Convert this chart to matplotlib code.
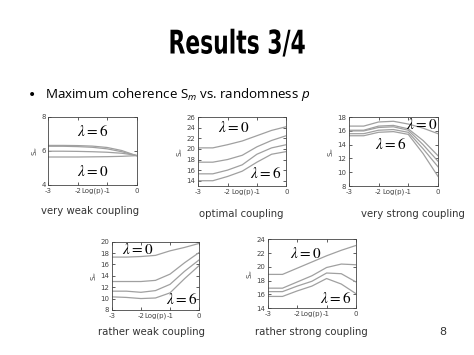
import matplotlib
matplotlib.use('Agg')
import matplotlib.pyplot as plt
from matplotlib.patheffects import AbstractPathEffect
from matplotlib.transforms import Affine2D

plt.rcParams['mathtext.fontset'] = 'stix'
plt.rcParams['mathtext.rm'] = 'Open Sans'
plt.rcParams['mathtext.it'] = 'Open Sans:italic'

logp = [-3, -2.5, -2, -1.5, -1, -0.5, 0]

# very weak coupling
weak1 = [6.32, 6.32, 6.31, 6.28, 6.2, 6.02, 5.72]
weak2 = [6.27, 6.27, 6.25, 6.21, 6.12, 5.95, 5.72]
weak3 = [5.98, 5.98, 5.97, 5.95, 5.92, 5.86, 5.74]
weak4 = [5.64, 5.64, 5.64, 5.65, 5.66, 5.68, 5.72]

# optimal coupling
opt1 = [20.2, 20.2, 20.8, 21.5, 22.5, 23.5, 24.2]
opt2 = [17.5, 17.5, 18.0, 18.8, 20.4, 21.6, 22.5]
opt3 = [15.3, 15.3, 16.0, 17.0, 19.0, 20.2, 20.8]
opt4 = [14.0, 14.0, 14.8, 15.8, 17.5, 19.0, 19.5]

# very strong coupling
vs1 = [16.7, 16.7, 17.3, 17.4, 17.0, 16.4, 15.6]
vs2 = [16.1, 16.1, 16.7, 16.8, 16.3, 14.6, 12.4]
vs3 = [16.0, 16.0, 16.5, 16.6, 16.1, 14.0, 11.6]
vs4 = [15.6, 15.6, 16.1, 16.2, 15.8, 13.4, 10.8]
vs5 = [15.3, 15.3, 15.8, 15.9, 15.5, 12.7, 9.4]

# rather weak coupling
rw1 = [17.3, 17.3, 17.4, 17.6, 18.4, 19.0, 19.7]
rw2 = [13.0, 13.0, 13.0, 13.2, 14.3, 16.3, 18.1]
rw3 = [11.3, 11.3, 11.1, 11.4, 12.5, 14.8, 16.8]
rw4 = [10.3, 10.2, 10.0, 10.1, 11.0, 13.5, 15.8]

# rather strong coupling
rs1 = [18.9, 18.9, 19.8, 20.7, 21.6, 22.4, 23.1]
rs2 = [16.9, 16.9, 17.8, 18.7, 19.9, 20.4, 20.3]
rs3 = [16.4, 16.4, 17.2, 17.9, 19.1, 19.0, 17.8]
rs4 = [15.7, 15.7, 16.5, 17.2, 18.3, 17.5, 16.1]


class Squeeze(AbstractPathEffect):
    # narrow the title glyphs horizontally around cx (display pixels)
    def __init__(self, sx, cx):
        super().__init__()
        self.sx = sx
        self.cx = cx

    def draw_path(self, renderer, gc, tpath, affine, rgbFace=None):
        aff = affine + Affine2D().translate(-self.cx, 0).scale(self.sx, 1).translate(self.cx, 0)
        renderer.draw_path(gc, tpath, aff, rgbFace)


fig = plt.figure(figsize=(4.74, 3.55), dpi=100)

fig.text(0.5, 0.876, 'Results 3/4', ha='center', va='center', fontsize=23.5,
         fontweight='bold', family='DejaVu Sans',
         path_effects=[Squeeze(0.67, 237)])
fig.text(0.068, 0.733, '\u2022', ha='center', va='center', fontsize=10)
fig.text(0.095, 0.733, r'Maximum coherence S$_{\mathit{m}}$ vs. randomness $\mathit{p}$',
         ha='left', va='center', fontsize=9.6, family=['Open Sans', 'DejaVu Sans'],
         math_fontfamily='custom')
fig.text(0.935, 0.065, '8', ha='center', va='center', fontsize=8, color='#333333')

panels = [
    ([0.102, 0.479, 0.186, 0.192], [weak1, weak2, weak3, weak4], (4, 8), [4, 6, 8],
     [(-1.5, 7.15, 6), (-1.5, 4.8, 0)], 'very weak coupling', (0.19, 0.405)),
    ([0.418, 0.476, 0.186, 0.194], [opt1, opt2, opt3, opt4], (13, 26), range(14, 27, 2),
     [(-1.8, 24.0, 0), (-0.7, 15.4, 6)], 'optimal coupling', (0.51, 0.398)),
    ([0.736, 0.476, 0.188, 0.194], [vs1, vs2, vs3, vs4, vs5], (8, 18), range(8, 19, 2),
     [(-0.54, 16.9, 0), (-1.6, 14.1, 6)], 'very strong coupling', (0.872, 0.398)),
    ([0.236, 0.127, 0.184, 0.192], [rw1, rw2, rw3, rw4], (8, 20), range(8, 21, 2),
     [(-2.1, 18.6, 0), (-0.6, 9.9, 6)], 'rather weak coupling', (0.32, 0.065)),
    ([0.565, 0.132, 0.186, 0.194], [rs1, rs2, rs3, rs4], (14, 24), range(14, 25, 2),
     [(-1.7, 21.9, 0), (-0.7, 15.4, 6)], 'rather strong coupling', (0.656, 0.065)),
]

for rect, series, ylim, yticks, labels, caption, cpos in panels:
    ax = fig.add_axes(rect)
    for s in series:
        ax.plot(logp, s, color='#a0a0a0', lw=0.9)
    ax.set_xlim(-3, 0)
    ax.set_ylim(*ylim)
    ax.set_xticks([-3, -2, -1, 0])
    ax.set_xticklabels(['-3', '-2', '-1', '0'])
    ax.set_yticks(list(yticks))
    ax.tick_params(direction='in', length=2.5, width=0.6, labelsize=5,
                   top=True, right=True, pad=2, colors='#444444')
    for sp in ax.spines.values():
        sp.set_linewidth(0.6)
        sp.set_color('#444444')
    ax.set_xlabel('Log(p)', fontsize=5, labelpad=-4.5, color='#444444')
    ax.set_ylabel('S$_m$', fontsize=5, labelpad=1, color='#444444')
    for x, y, lam in labels:
        ax.text(x, y, r'$\lambda = %d$' % lam, fontsize=11, ha='center', va='center',
                math_fontfamily='stix')
    fig.text(cpos[0], cpos[1], caption, ha='center', va='center', fontsize=7.3,
             color='#333333')

fig.savefig('out.png', dpi=100)
